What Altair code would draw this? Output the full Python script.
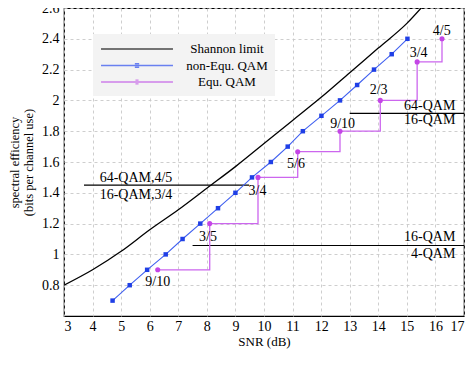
import altair as alt
import pandas as pd

# ---- data ----
shannon_x = [3, 4, 5, 6, 7, 8, 9, 10, 11, 12, 13, 14, 15, 15.5]
shannon_y = [0.80, 0.90, 1.02, 1.16, 1.29, 1.43, 1.57, 1.72, 1.87, 2.02, 2.18, 2.34, 2.50, 2.60]

nonequ_x = [4.70, 5.30, 5.91, 6.56, 7.15, 7.77, 8.39, 9.00, 9.58, 10.24, 10.83, 11.36,
            12.01, 12.66, 13.26, 13.85, 14.47, 15.02]
nonequ_y = [0.7, 0.8, 0.9, 1.0, 1.1, 1.2, 1.3, 1.4, 1.5, 1.6, 1.7, 1.8, 1.9, 2.0, 2.1, 2.2, 2.3, 2.4]

equ_x = [6.28, 8.10, 9.79, 11.18, 12.66, 14.07, 15.36, 16.23]
equ_y = [0.9, 1.2, 1.5, 1.667, 1.8, 2.0, 2.25, 2.4]
equ_lab = ["9/10", "3/5", "3/4", "5/6", "9/10", "2/3", "3/4", "4/5"]
equ_lab_x = [6.28, 8.04, 9.77, 11.12, 12.75, 14.01, 15.41, 16.22]
equ_lab_y = [0.82, 1.11, 1.41, 1.59, 1.85, 2.07, 2.31, 2.45]

# mode boundaries
bound_x1 = [3.70, 7.50, 13.0]
bound_x2 = [9.48, 17.0, 17.0]
bound_y = [1.45, 1.058, 1.916]

left_txt = ["64-QAM,4/5", "16-QAM,3/4"]
left_txt_x = [5.52, 5.52]
left_txt_y = [1.498, 1.383]

right_txt = ["64-QAM", "16-QAM", "16-QAM", "4-QAM"]
right_txt_x = [16.70, 16.70, 16.70, 16.70]
right_txt_y = [1.963, 1.872, 1.114, 1.005]

series = ["Shannon limit", "non-Equ. QAM", "Equ. QAM"]
series_col = ["#000000", "#3050f0", "#c050e8"]

x_ticks = list(range(3, 18))
y_ticks = [0.8, 1.0, 1.2, 1.4, 1.6, 1.8, 2.0, 2.2, 2.4, 2.6]

FONT = "Liberation Serif"

# ---- tables ----
df_sh = pd.DataFrame({"x": shannon_x, "y": shannon_y})
df_ne = pd.DataFrame({"x": nonequ_x, "y": nonequ_y})
df_eq = pd.DataFrame({"x": equ_x, "y": equ_y})
df_eql = pd.DataFrame({"x": equ_lab_x, "y": equ_lab_y, "t": equ_lab})
df_b = pd.DataFrame({"x": bound_x1, "x2": bound_x2, "y": bound_y})
df_lt = pd.DataFrame({"x": left_txt_x, "y": left_txt_y, "t": left_txt})
df_rt = pd.DataFrame({"x": right_txt_x, "y": right_txt_y, "t": right_txt})
df_leg = pd.DataFrame({"s": series})

xs = alt.Scale(domain=[3, 17], nice=False, zero=False)
ys = alt.Scale(domain=[0.6, 2.6], nice=False, zero=False)

X = alt.X("x:Q", scale=xs, axis=alt.Axis(values=x_ticks, title="SNR (dB)", format="d",
                                         labelFont=FONT, titleFont=FONT, labelFontSize=14,
                                         titleFontSize=13))
Y = alt.Y("y:Q", scale=ys, axis=alt.Axis(values=y_ticks, format="~g", labelFont=FONT, titleFont=FONT,
                                         labelFontSize=14, titleFontSize=12.5,
                                         title=["spectral efficiency", "(bits per channel use)"]))

shannon = alt.Chart(df_sh).mark_line(color="black", strokeWidth=1.3, interpolate="monotone",
                                      clip=True).encode(x=X, y=Y)

ne_line = alt.Chart(df_ne).mark_line(color="#4060f0", strokeWidth=1.1).encode(x=X, y=Y)
ne_pts = alt.Chart(df_ne).mark_point(shape="square", filled=True, size=20, color="#1f3fe6",
                                     opacity=1).encode(x=X, y=Y)

eq_line = alt.Chart(df_eq).mark_line(color="#cc66ee", strokeWidth=1.3,
                                     interpolate="step-after").encode(x=X, y=Y)
eq_pts = alt.Chart(df_eq).mark_point(shape="circle", filled=True, size=26, color="#c445e6",
                                     opacity=1).encode(x=X, y=Y)

eq_txt = alt.Chart(df_eql).mark_text(font=FONT, fontSize=14, color="black").encode(
    x=X, y=Y, text="t:N")

bounds = alt.Chart(df_b).mark_rule(color="black", strokeWidth=1.1).encode(x=X, x2="x2:Q", y=Y)

lt = alt.Chart(df_lt).mark_text(font=FONT, fontSize=14, color="black").encode(x=X, y=Y, text="t:N")
rt = alt.Chart(df_rt).mark_text(font=FONT, fontSize=14, color="black", align="right").encode(
    x=X, y=Y, text="t:N")

# legend-only layer (no visible marks; legend generated from the explicit scale domain)
p_line = "M-5,0H5"
S = 0.3
p_sq = "M-5,0H5M-%g,-%gH%gM-%g,0H%gM-%g,%gH%g" % (S, S * 0.8, S, S, S, S, S * 0.8, S)
C = 0.36
p_ci = "M-5,0H5M-%g,-%gH%gM-%g,0H%gM-%g,%gH%g" % (C * 0.6, C * 0.7, C * 0.6, C, C, C * 0.6, C * 0.7, C * 0.6)

leg = alt.Chart(df_leg).transform_filter("datum.s == 'none'").mark_point(
    filled=False, strokeWidth=1.3).encode(
    x=alt.value(0), y=alt.value(0),
    color=alt.Color("s:N", scale=alt.Scale(domain=series, range=series_col), title=None,
                    legend=alt.Legend(orient="none", legendX=29, legendY=26, fillColor="#f3f3f3",
                                      padding=7, symbolSize=207, symbolOffset=29,
                                      labelFont=FONT, labelFontSize=13,
                                      labelColor="black", labelAlign="center", labelOffset=82,
                                      rowPadding=1.5, symbolStrokeWidth=1.3, labelLimit=300)),
    shape=alt.Shape("s:N", scale=alt.Scale(domain=series, range=[p_line, p_sq, p_ci]), title=None),
)

chart = alt.layer(shannon, bounds, ne_line, ne_pts, eq_line, eq_pts, eq_txt, lt, rt, leg).properties(
    width=400, height=308,
    autosize=alt.AutoSizeParams(type="none"),
    padding={"left": 56, "top": 0, "right": 2, "bottom": 36},
).configure(font=FONT).configure_view(stroke="black", strokeWidth=1.2).configure_axis(
    grid=True, gridColor="#c8c8c8", gridDash=[3, 3], gridWidth=0.9,
    domain=False, ticks=False,
    labelFont=FONT, labelFontSize=14, labelColor="black", labelPadding=3,
    titleFont=FONT, titleFontWeight="normal", titleColor="black",
).configure_axisX(titleFontSize=13, titlePadding=2).configure_axisY(
    titleFontSize=12.5, titlePadding=6, titleLineHeight=14, labelPadding=5)

chart.save("out.html", embed_options={"renderer": "svg", "actions": False})
